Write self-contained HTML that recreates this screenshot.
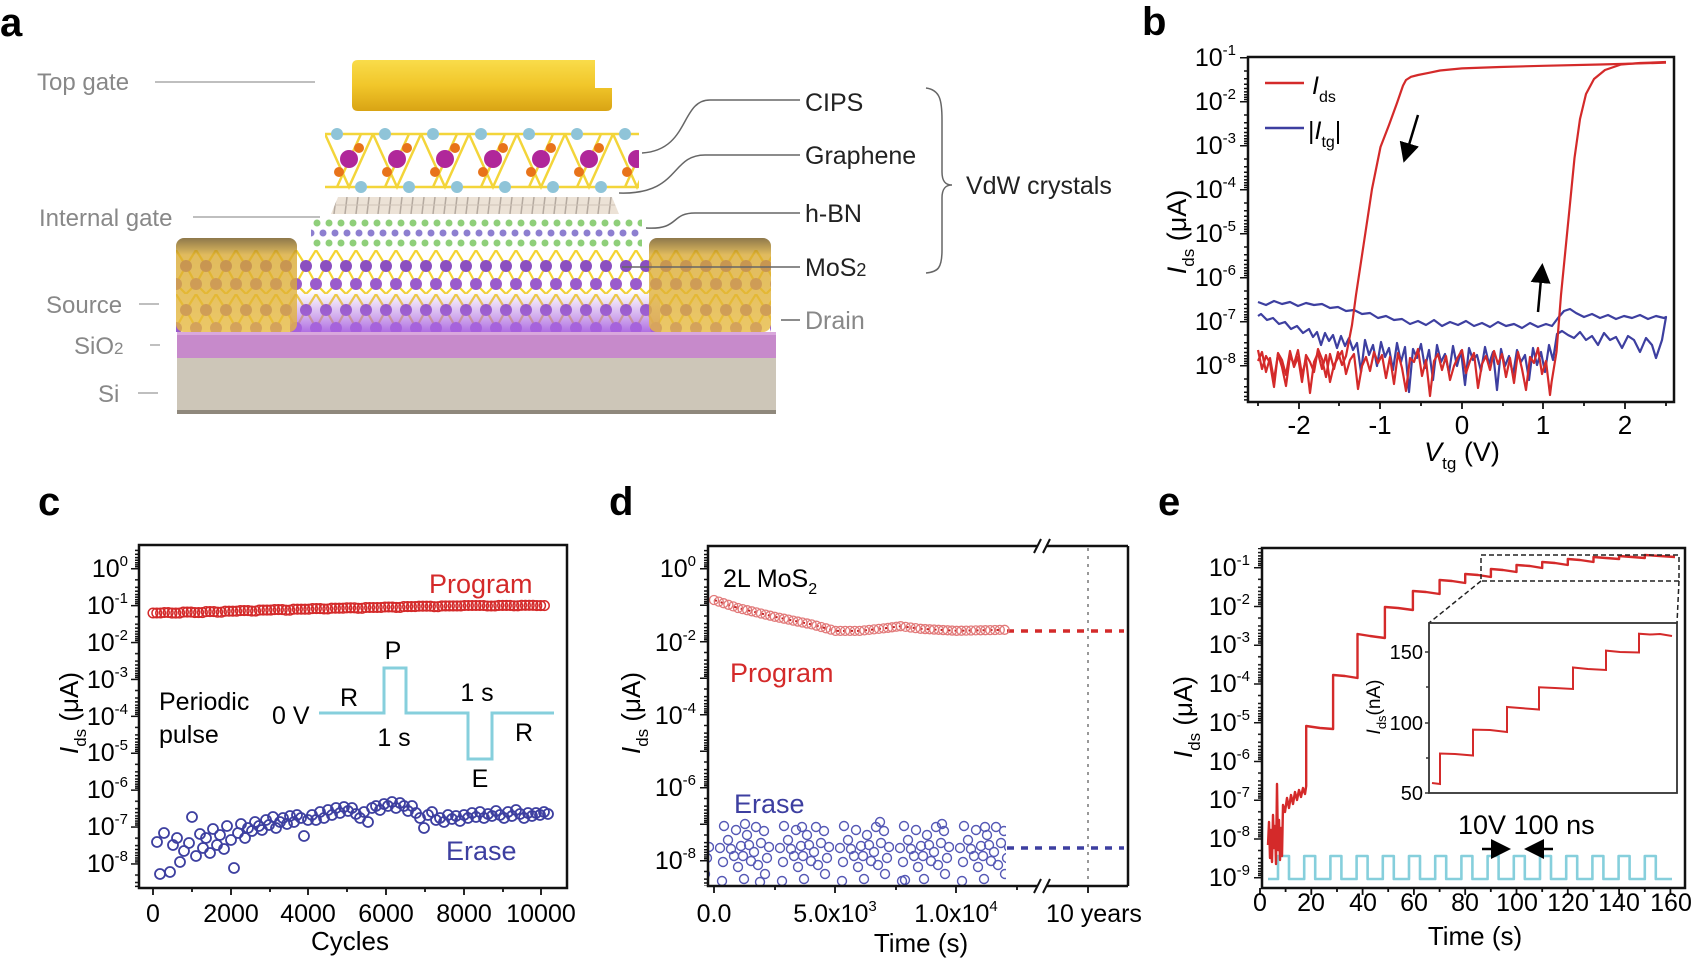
<!DOCTYPE html>
<html><head><meta charset="utf-8">
<style>
html,body{margin:0;padding:0;background:#fff;}
svg{display:block;font-family:"Liberation Sans",Arial,sans-serif;}
</style></head>
<body>
<svg width="1699" height="963" viewBox="0 0 1699 963" xmlns="http://www.w3.org/2000/svg">
<defs>
<linearGradient id="gold" x1="0" y1="0" x2="0" y2="1">
<stop offset="0" stop-color="#f9dc4a"/><stop offset="0.5" stop-color="#f1c62a"/><stop offset="1" stop-color="#d9a414"/></linearGradient>
<linearGradient id="blk" x1="0" y1="0" x2="0" y2="1">
<stop offset="0" stop-color="#6e5218"/><stop offset="0.18" stop-color="#d8a830"/><stop offset="1" stop-color="#e6b83c"/></linearGradient>
<linearGradient id="glow" x1="0" y1="0" x2="0" y2="1">
<stop offset="0" stop-color="#b880e0" stop-opacity="0"/><stop offset="1" stop-color="#a860e0" stop-opacity="0.9"/></linearGradient>
<pattern id="pMoS" patternUnits="userSpaceOnUse" x="176" y="250" width="20" height="44">
<path d="M0,0 L10,16 L20,0 M10,16 L0,34 M10,16 L20,34 M0,34 L10,44 M20,34 L10,44" stroke="#f4d430" stroke-width="2.2" fill="none"/>
<circle cx="10" cy="16" r="6" fill="#8b4fc0"/><circle cx="0" cy="34" r="6" fill="#9a5ccc"/><circle cx="20" cy="34" r="6" fill="#9a5ccc"/>
</pattern>
<pattern id="pBN" patternUnits="userSpaceOnUse" x="311" y="218" width="12" height="20">
<circle cx="6" cy="5" r="3.5" fill="#8fcf7a"/><circle cx="0" cy="15" r="3.5" fill="#8d7fd0"/><circle cx="12" cy="15" r="3.5" fill="#8d7fd0"/>
</pattern>
<pattern id="pGr" patternUnits="userSpaceOnUse" x="331" y="197" width="11" height="17">
<rect width="11" height="17" fill="#ece2d6"/><line x1="5" y1="0" x2="3" y2="17" stroke="#b5aaa0" stroke-width="1.5"/><line x1="0" y1="8" x2="11" y2="8" stroke="#d0c4b8" stroke-width="1"/>
</pattern>
<pattern id="pCIPS" patternUnits="userSpaceOnUse" x="325" y="128" width="48" height="65">
<path d="M0,6 L48,6 M0,59 L48,59 M0,6 L24,59 L48,6 M12,59 L36,6" stroke="#f3d53a" stroke-width="2.5" fill="none"/>
<circle cx="24" cy="31" r="9" fill="#b0279a"/><circle cx="12" cy="6" r="6" fill="#8fc4d8"/><circle cx="36" cy="59" r="6" fill="#8fc4d8"/>
<circle cx="34" cy="20" r="5" fill="#e8731a"/><circle cx="14" cy="44" r="5" fill="#e8731a"/>
</pattern>
<pattern id="tb" patternUnits="userSpaceOnUse" x="1240" y="57" width="8" height="44">
<path d="M0,0.75H8 M4,14.0H8 M4,21.8H8 M4,27.3H8 M4,31.5H8 M4,34.9H8 M4,37.8H8 M4,40.3H8 M4,42.5H8" stroke="#111" stroke-width="1.5"/></pattern>
<pattern id="tc" patternUnits="userSpaceOnUse" x="131" y="568" width="8" height="36.9">
<path d="M0,0.75H8 M4,11.8H8 M4,19.3H8 M4,23.2H8 M4,26.6H8 M4,29.2H8 M4,31.7H8 M4,33.8H8 M4,35.6H8" stroke="#111" stroke-width="1.5"/></pattern>
<pattern id="td" patternUnits="userSpaceOnUse" x="700" y="568" width="8" height="36.5">
<path d="M0,0.75H8 M4,11.5H8 M4,19.1H8 M4,23H8 M4,26.3H8 M4,28.9H8 M4,31.4H8 M4,33.5H8 M4,35.2H8" stroke="#111" stroke-width="1.5"/></pattern>
<pattern id="te" patternUnits="userSpaceOnUse" x="1254" y="567" width="8" height="38.75">
<path d="M0,0.75H8 M4,12.3H8 M4,20.3H8 M4,24.4H8 M4,27.7H8 M4,30.5H8 M4,33.1H8 M4,35.4H8 M4,37.3H8" stroke="#111" stroke-width="1.5"/></pattern>
<pattern id="pEr" patternUnits="userSpaceOnUse" x="714" y="818" width="60" height="72">
<g fill="none" stroke="#5558b5" stroke-width="1.4">
<circle cx="6" cy="30" r="4.5"/><circle cx="14" cy="22" r="4.5"/><circle cx="20" cy="38" r="4.5"/><circle cx="27" cy="28" r="4.5"/><circle cx="33" cy="17" r="4.5"/><circle cx="40" cy="34" r="4.5"/><circle cx="47" cy="25" r="4.5"/><circle cx="53" cy="40" r="4.5"/><circle cx="9" cy="44" r="4.5"/><circle cx="24" cy="49" r="4.5"/><circle cx="37" cy="43" r="4.5"/><circle cx="50" cy="13" r="4.5"/><circle cx="17" cy="31" r="4.5"/><circle cx="44" cy="47" r="4.5"/><circle cx="30" cy="61" r="4.5"/><circle cx="8" cy="63" r="4.5"/><circle cx="55" cy="29" r="4.5"/><circle cx="42" cy="9" r="4.5"/><circle cx="22" cy="12" r="4.5"/><circle cx="35" cy="27" r="4.5"/><circle cx="10" cy="8" r="4.5"/><circle cx="51" cy="56" r="4.5"/><circle cx="29" cy="38" r="4.5"/>
</g></pattern>
<clipPath id="cb"><rect x="1248" y="57" width="426" height="345"/></clipPath>
<clipPath id="cd"><rect x="708" y="546" width="420" height="340"/></clipPath>
<clipPath id="ce"><rect x="1262" y="548" width="423" height="340"/></clipPath>
<marker id="ah" markerWidth="8" markerHeight="8" refX="6" refY="4" orient="auto" markerUnits="strokeWidth">
<path d="M0,0 L8,4 L0,8 Z" fill="#000"/></marker>
<marker id="mr" markerWidth="12" markerHeight="12" refX="6" refY="6" markerUnits="userSpaceOnUse">
<circle cx="6" cy="6" r="4.8" fill="none" stroke="#d42a2a" stroke-width="1.5"/></marker>
<marker id="mr2" markerWidth="12" markerHeight="12" refX="6" refY="6" markerUnits="userSpaceOnUse">
<circle cx="6" cy="6" r="4.5" fill="none" stroke="#e27a7a" stroke-width="1.3"/></marker>
</defs>

<!-- ===== Panel a ===== -->
<text x="0" y="36" font-size="40" font-weight="bold">a</text>
<g font-size="24" fill="#888">
<text x="37" y="90">Top gate</text>
<text x="39" y="226">Internal gate</text>
<text x="46" y="313">Source</text>
<text x="74" y="354">SiO<tspan font-size="17">2</tspan></text>
<text x="98" y="402">Si</text>
</g>
<g stroke="#aaa" stroke-width="1.5">
<line x1="155" y1="82" x2="315" y2="82"/>
<line x1="193" y1="217" x2="320" y2="217"/>
<line x1="139" y1="304" x2="159" y2="304"/>
<line x1="150" y1="345" x2="160" y2="345"/>
<line x1="138" y1="393" x2="158" y2="393"/>
</g>
<rect x="177" y="358" width="599" height="55" fill="#cdc6b8"/>
<rect x="177" y="410" width="599" height="4" fill="#8f887c"/>
<rect x="177" y="332" width="599" height="26" fill="#c78acb"/>
<rect x="177" y="332" width="599" height="3" fill="#d9a8dc"/>
<rect x="176" y="250" width="595" height="82" fill="url(#pMoS)"/>
<rect x="290" y="290" width="370" height="42" fill="url(#glow)"/>
<rect x="176" y="238" width="121" height="94" rx="8" fill="url(#blk)" opacity="0.78"/>
<rect x="649" y="238" width="122" height="94" rx="8" fill="url(#blk)" opacity="0.78"/>
<rect x="311" y="218" width="331" height="30" fill="url(#pBN)"/>
<path d="M338,197 L612,197 L619,214 L331,214 Z" fill="url(#pGr)"/>
<rect x="325" y="128" width="314" height="65" fill="url(#pCIPS)"/>
<path d="M352,66 Q352,60 358,60 L595,60 L595,88 L612,88 L612,106 Q612,111 606,111 L358,111 Q352,111 352,105 Z" fill="url(#gold)"/>
<g fill="none" stroke="#666" stroke-width="1.5">
<path d="M642,153 C690,150 680,100 710,100 L800,100"/>
<path d="M619,193 C680,195 670,155 705,155 L800,155"/>
<path d="M646,228 C680,230 670,213 695,213 L800,213"/>
<path d="M622,267 L800,267"/>
<path d="M781,320 L800,320"/>
<path d="M926,88 C940,90 942,100 942,120 L942,172 C942,182 946,185 952,185 C946,185 942,188 942,198 L942,250 C942,268 938,272 926,273"/>
</g>
<g font-size="25" fill="#222">
<text x="805" y="111">CIPS</text>
<text x="805" y="164">Graphene</text>
<text x="805" y="222">h-BN</text>
<text x="805" y="276">MoS<tspan font-size="18">2</tspan></text>
<text x="966" y="194">VdW crystals</text>
</g>
<text x="805" y="329" font-size="25" fill="#888">Drain</text>

<!-- ===== Panel b ===== -->
<text x="1142" y="35" font-size="40" font-weight="bold">b</text>
<rect x="1240" y="57" width="8" height="345" fill="url(#tb)"/>
<g stroke="#111" stroke-width="1.8">
<path d="M1299,402v7M1380,402v7M1462,402v7M1543,402v7M1625,402v7M1258,402v4M1339,402v4M1421,402v4M1503,402v4M1584,402v4M1666,402v4"/>
</g>
<g font-size="25" text-anchor="end">
<text x="1236" y="66">10<tspan font-size="15" dy="-11">-1</tspan></text>
<text x="1236" y="110">10<tspan font-size="15" dy="-11">-2</tspan></text>
<text x="1236" y="154">10<tspan font-size="15" dy="-11">-3</tspan></text>
<text x="1236" y="198">10<tspan font-size="15" dy="-11">-4</tspan></text>
<text x="1236" y="242">10<tspan font-size="15" dy="-11">-5</tspan></text>
<text x="1236" y="286">10<tspan font-size="15" dy="-11">-6</tspan></text>
<text x="1236" y="330">10<tspan font-size="15" dy="-11">-7</tspan></text>
<text x="1236" y="374">10<tspan font-size="15" dy="-11">-8</tspan></text>
</g>
<g font-size="26" text-anchor="middle">
<text x="1299" y="434">-2</text><text x="1380" y="434">-1</text><text x="1462" y="434">0</text><text x="1543" y="434">1</text><text x="1625" y="434">2</text>
</g>
<text x="1462" y="461" font-size="27" text-anchor="middle"><tspan font-style="italic">V</tspan><tspan font-size="17" dy="8">tg</tspan><tspan dy="-8"> (V)</tspan></text>
<text transform="translate(1186,232) rotate(-90)" font-size="27" text-anchor="middle"><tspan font-style="italic">I</tspan><tspan font-size="17" dy="8">ds</tspan><tspan dy="-8"> (μA)</tspan></text>
<line x1="1265" y1="83" x2="1304" y2="83" stroke="#d42a2a" stroke-width="2.5"/>
<line x1="1265" y1="128" x2="1304" y2="128" stroke="#3d3fa0" stroke-width="2.5"/>
<text x="1312" y="94" font-size="25"><tspan font-style="italic">I</tspan><tspan font-size="16" dy="8">ds</tspan></text>
<text x="1308" y="139" font-size="25">|<tspan font-style="italic">I</tspan><tspan font-size="16" dy="8">tg</tspan><tspan dy="-8">|</tspan></text>
<g clip-path="url(#cb)" fill="none" stroke-width="2.2" stroke-linejoin="round">
<polyline stroke="#3d3fa0" points="1258,302 1266,305 1274,301 1282,304 1290,302 1298,306 1306,303 1314,305 1322,304 1330,308 1338,307 1346,311 1354,310 1362,314 1370,313 1378,318 1386,316 1394,320 1402,319 1410,324 1418,321 1426,325 1434,320 1442,326 1450,322 1458,325 1466,321 1474,326 1482,323 1490,327 1498,322 1506,326 1514,324 1522,328 1530,323 1538,327 1546,324 1552,326 1558,318 1564,311 1570,309 1576,313 1584,317 1592,314 1600,318 1608,315 1616,319 1624,316 1632,318 1640,315 1648,319 1656,316 1664,318 1666,317 1662,340 1656,358 1652,345 1646,338 1640,352 1634,340 1628,336 1622,348 1616,337 1610,340 1604,333 1598,345 1592,336 1586,340 1580,332 1574,338 1568,335 1562,331 1557,334 1553,360 1549,345 1545,372 1541,352 1537,365 1533,348 1529,380 1525,355 1521,362 1517,350 1513,375 1509,356 1505,366 1501,349 1497,390 1493,352 1489,364 1485,347 1481,371 1477,355 1473,360 1469,348 1465,385 1461,351 1457,366 1453,346 1449,373 1445,354 1441,362 1437,345 1433,380 1429,350 1425,368 1421,344 1417,358 1413,349 1409,392 1405,347 1401,362 1397,343 1393,370 1389,348 1385,357 1381,342 1377,366 1373,345 1369,355 1365,340 1361,372 1357,343 1353,350 1349,338 1345,346 1341,336 1337,348 1333,335 1329,341 1325,333 1321,345 1317,332 1313,337 1309,329 1303,333 1297,326 1291,329 1285,322 1279,324 1273,318 1267,320 1261,314 1258,316"/>
<polyline stroke="#d42a2a" points="1666,62.7 1600,64.5 1543,65.8 1500,67 1462,68.4 1440,70.5 1429,72.8 1418,75 1411,76.8 1406,80 1403,85.6 1397,103 1389,125 1380.5,147 1372,189 1364,242 1356,295 1352,325 1346,356 1342,365 1338,352 1334,369 1330,354 1326,377 1322,359 1318,349 1314,372 1310,362 1306,355 1302,382 1298,357 1294,367 1290,351 1286,375 1282,360 1278,353 1274,387 1270,363 1266,356 1262,369 1258,350"/>
<polyline stroke="#d42a2a" points="1258,361 1262,352 1266,372 1270,358 1274,380 1278,354 1282,367 1286,386 1290,356 1294,364 1298,350 1302,375 1306,359 1310,393 1314,362 1318,353 1322,369 1326,355 1330,382 1334,365 1338,358 1342,351 1346,374 1350,360 1354,354 1358,389 1362,366 1366,357 1370,371 1374,352 1378,363 1382,355 1386,378 1390,357 1394,384 1398,353 1402,368 1406,391 1410,358 1414,362 1418,349 1422,376 1426,360 1430,396 1434,361 1438,354 1442,370 1446,356 1450,380 1454,366 1458,357 1462,350 1466,373 1470,361 1474,353 1478,388 1482,364 1486,356 1490,370 1494,351 1498,364 1502,354 1506,377 1510,358 1514,383 1518,352 1522,369 1526,390 1530,357 1534,363 1538,348 1542,374 1546,361 1550,395 1551.6,382 1556.5,352 1561,295 1568,224 1574.5,158 1580,119 1586,94 1594,79 1605,70 1621,64.5 1640,63 1666,62"/>
</g>
<rect x="1248" y="57" width="426" height="345" fill="none" stroke="#111" stroke-width="2.5"/>
<line x1="1418" y1="115" x2="1405" y2="158" stroke="#000" stroke-width="2.5" marker-end="url(#ah)"/>
<line x1="1538" y1="312" x2="1542" y2="268" stroke="#000" stroke-width="2.5" marker-end="url(#ah)"/>

<!-- ===== Panel c ===== -->
<text x="38" y="515" font-size="40" font-weight="bold">c</text>
<rect x="131" y="545" width="8" height="343" fill="url(#tc)"/>
<path d="M153,888v7M231,888v7M308,888v7M386,888v7M464,888v7M541,888v7M192,888v4M270,888v4M347,888v4M425,888v4M503,888v4" stroke="#111" stroke-width="1.8"/>
<g font-size="25" text-anchor="end">
<text x="128" y="577">10<tspan font-size="15" dy="-11">0</tspan></text>
<text x="128" y="614">10<tspan font-size="15" dy="-11">-1</tspan></text>
<text x="128" y="651">10<tspan font-size="15" dy="-11">-2</tspan></text>
<text x="128" y="688">10<tspan font-size="15" dy="-11">-3</tspan></text>
<text x="128" y="725">10<tspan font-size="15" dy="-11">-4</tspan></text>
<text x="128" y="761">10<tspan font-size="15" dy="-11">-5</tspan></text>
<text x="128" y="798">10<tspan font-size="15" dy="-11">-6</tspan></text>
<text x="128" y="835">10<tspan font-size="15" dy="-11">-7</tspan></text>
<text x="128" y="872">10<tspan font-size="15" dy="-11">-8</tspan></text>
</g>
<g font-size="25" text-anchor="middle">
<text x="153" y="922">0</text><text x="231" y="922">2000</text><text x="308" y="922">4000</text><text x="386" y="922">6000</text><text x="464" y="922">8000</text><text x="541" y="922">10000</text>
</g>
<text x="350" y="950" font-size="26" text-anchor="middle">Cycles</text>
<text transform="translate(78,713) rotate(-90)" font-size="26" text-anchor="middle"><tspan font-style="italic">I</tspan><tspan font-size="17" dy="8">ds</tspan><tspan dy="-8"> (μA)</tspan></text>
<text x="429" y="593" font-size="27" fill="#d42a2a">Program</text>
<text x="446" y="860" font-size="27" fill="#3d3fa0">Erase</text>
<text x="159" y="710" font-size="25">Periodic</text>
<text x="159" y="743" font-size="25">pulse</text>
<text x="272" y="724" font-size="25">0 V</text>
<polyline points="319,713 384,713 384,668 406,668 406,713 468,713 468,759 492,759 492,713 554,713" fill="none" stroke="#86cfdc" stroke-width="3"/>
<g font-size="25" text-anchor="middle">
<text x="349" y="706">R</text><text x="393" y="659">P</text><text x="394" y="746">1 s</text><text x="477" y="701">1 s</text><text x="524" y="741">R</text><text x="480" y="787">E</text>
</g>
<path fill="none" stroke="none" marker-start="url(#mr)" marker-mid="url(#mr)" marker-end="url(#mr)" d="M153,613 h3.8 h3.8 l3.8,-0.5 h3.8 l3.8,0.6 h3.8 h3.8 l3.8,-1 h3.8 h3.8 l3.8,0.5 h3.8 h3.8 l3.8,-1 h3.8 h3.8 l3.8,0.6 h3.8 l3.8,-1 h3.8 h3.8 h3.8 l3.8,-0.6 h3.8 h3.8 l3.8,0.5 h3.8 l3.8,-1 h3.8 h3.8 h3.8 l3.8,-0.5 h3.8 h3.8 l3.8,0.6 h3.8 l3.8,-1 h3.8 h3.8 h3.8 h3.8 l3.8,-0.6 h3.8 h3.8 l3.8,0.4 h3.8 l3.8,-0.8 h3.8 h3.8 h3.8 l3.8,-0.4 h3.8 h3.8 l3.8,0.5 h3.8 l3.8,-0.8 h3.8 h3.8 h3.8 h3.8 l3.8,-0.5 h3.8 h3.8 l3.8,0.4 h3.8 l3.8,-0.8 h3.8 h3.8 h3.8 l3.8,-0.4 h3.8 h3.8 h3.8 l3.8,0.5 h3.8 l3.8,-0.8 h3.8 h3.8 h3.8 h3.8 h3.8 l3.8,-0.4 h3.8 h3.8 h3.8 h3.8 h3.8 l3.8,0.5 h3.8 h3.8 l3.8,-0.6 h3.8 h3.8 h3.8 l3.8,0.4 h3.8 l3.8,-0.5 h3.8 h3.8 h3.8 l3.8,0.3 h3.8 h3.8"/>
<g fill="none" stroke="#3d3fa0" stroke-width="1.8">
<circle cx="157" cy="842" r="5"/><circle cx="160" cy="874" r="5"/><circle cx="164" cy="833" r="5"/><circle cx="170" cy="872" r="5"/><circle cx="173" cy="845" r="5"/><circle cx="177" cy="838" r="5"/><circle cx="180" cy="862" r="5"/><circle cx="184" cy="851" r="5"/><circle cx="189" cy="843" r="5"/><circle cx="192" cy="817" r="5"/><circle cx="196" cy="856" r="5"/><circle cx="200" cy="834" r="5"/><circle cx="203" cy="848" r="5"/><circle cx="206" cy="838" r="5"/><circle cx="210" cy="853" r="5"/><circle cx="213" cy="829" r="5"/><circle cx="217" cy="845" r="5"/><circle cx="220" cy="835" r="5"/><circle cx="224" cy="849" r="5"/><circle cx="227" cy="826" r="5"/><circle cx="231" cy="840" r="5"/><circle cx="234" cy="868" r="5"/><circle cx="238" cy="833" r="5"/><circle cx="241" cy="824" r="5"/><circle cx="245" cy="838" r="5"/><circle cx="248" cy="828" r="5"/><circle cx="252" cy="831" r="5"/><circle cx="255" cy="822" r="5"/><circle cx="259" cy="826" r="5"/><circle cx="262" cy="830" r="5"/><circle cx="266" cy="820" r="5"/><circle cx="269" cy="825" r="5"/><circle cx="273" cy="817" r="5"/><circle cx="276" cy="828" r="5"/><circle cx="280" cy="822" r="5"/><circle cx="283" cy="818" r="5"/><circle cx="287" cy="824" r="5"/><circle cx="290" cy="816" r="5"/><circle cx="294" cy="822" r="5"/><circle cx="297" cy="815" r="5"/><circle cx="301" cy="818" r="5"/><circle cx="304" cy="836" r="5"/><circle cx="308" cy="820" r="5"/><circle cx="312" cy="815" r="5"/><circle cx="316" cy="820" r="5"/><circle cx="320" cy="812" r="5"/><circle cx="324" cy="818" r="5"/><circle cx="328" cy="810" r="5"/><circle cx="332" cy="815" r="5"/><circle cx="336" cy="808" r="5"/><circle cx="340" cy="813" r="5"/><circle cx="344" cy="807" r="5"/><circle cx="348" cy="811" r="5"/><circle cx="352" cy="808" r="5"/><circle cx="356" cy="814" r="5"/><circle cx="360" cy="818" r="5"/><circle cx="364" cy="812" r="5"/><circle cx="368" cy="822" r="5"/><circle cx="372" cy="808" r="5"/><circle cx="376" cy="806" r="5"/><circle cx="380" cy="810" r="5"/><circle cx="384" cy="804" r="5"/><circle cx="388" cy="806" r="5"/><circle cx="392" cy="802" r="5"/><circle cx="396" cy="808" r="5"/><circle cx="400" cy="803" r="5"/><circle cx="404" cy="806" r="5"/><circle cx="408" cy="811" r="5"/><circle cx="412" cy="806" r="5"/><circle cx="416" cy="813" r="5"/><circle cx="420" cy="818" r="5"/><circle cx="424" cy="828" r="5"/><circle cx="428" cy="815" r="5"/><circle cx="432" cy="812" r="5"/><circle cx="436" cy="820" r="5"/><circle cx="440" cy="818" r="5"/><circle cx="444" cy="822" r="5"/><circle cx="448" cy="815" r="5"/><circle cx="452" cy="819" r="5"/><circle cx="456" cy="816" r="5"/><circle cx="460" cy="821" r="5"/><circle cx="464" cy="815" r="5"/><circle cx="468" cy="818" r="5"/><circle cx="472" cy="813" r="5"/><circle cx="476" cy="817" r="5"/><circle cx="480" cy="812" r="5"/><circle cx="484" cy="818" r="5"/><circle cx="488" cy="814" r="5"/><circle cx="492" cy="816" r="5"/><circle cx="496" cy="811" r="5"/><circle cx="500" cy="815" r="5"/><circle cx="504" cy="818" r="5"/><circle cx="508" cy="812" r="5"/><circle cx="512" cy="816" r="5"/><circle cx="516" cy="810" r="5"/><circle cx="520" cy="814" r="5"/><circle cx="524" cy="818" r="5"/><circle cx="528" cy="813" r="5"/><circle cx="532" cy="816" r="5"/><circle cx="536" cy="813" r="5"/><circle cx="540" cy="815" r="5"/><circle cx="544" cy="812" r="5"/><circle cx="548" cy="814" r="5"/>
</g>
<rect x="139" y="545" width="428" height="343" fill="none" stroke="#111" stroke-width="2.5"/>

<!-- ===== Panel d ===== -->
<text x="609" y="515" font-size="40" font-weight="bold">d</text>
<rect x="700" y="546" width="8" height="340" fill="url(#td)"/>
<path d="M714,886v7M835,886v7M956,886v7M1088,886v7M775,886v4M896,886v4M1017,886v4" stroke="#111" stroke-width="1.8"/>
<line x1="1088" y1="548" x2="1088" y2="884" stroke="#999" stroke-width="2" stroke-dasharray="3,5"/>
<g font-size="25" text-anchor="end">
<text x="696" y="577">10<tspan font-size="15" dy="-11">0</tspan></text>
<text x="696" y="651">10<tspan font-size="15" dy="-11">-2</tspan></text>
<text x="696" y="724">10<tspan font-size="15" dy="-11">-4</tspan></text>
<text x="696" y="796">10<tspan font-size="15" dy="-11">-6</tspan></text>
<text x="696" y="869">10<tspan font-size="15" dy="-11">-8</tspan></text>
</g>
<g font-size="25" text-anchor="middle">
<text x="714" y="922">0.0</text>
<text x="835" y="922">5.0x10<tspan font-size="15" dy="-11">3</tspan></text>
<text x="956" y="922">1.0x10<tspan font-size="15" dy="-11">4</tspan></text>
<text x="1094" y="922">10 years</text>
</g>
<text x="921" y="952" font-size="26" text-anchor="middle">Time (s)</text>
<text transform="translate(640,713) rotate(-90)" font-size="26" text-anchor="middle"><tspan font-style="italic">I</tspan><tspan font-size="17" dy="8">ds</tspan><tspan dy="-8"> (μA)</tspan></text>
<text x="723" y="587" font-size="25">2L MoS<tspan font-size="16" dy="7">2</tspan></text>
<text x="730" y="682" font-size="27" fill="#d42a2a">Program</text>
<line x1="1007" y1="631" x2="1124" y2="631" stroke="#d42a2a" stroke-width="3.5" stroke-dasharray="7,7"/>
<line x1="1007" y1="848" x2="1124" y2="848" stroke="#3d3fa0" stroke-width="3.5" stroke-dasharray="7,7"/>
<g clip-path="url(#cd)">
<rect x="708" y="818" width="298" height="72" fill="url(#pEr)"/>
<g fill="none" stroke="#5558b5" stroke-width="1.4">
<circle cx="745" cy="824" r="4.5"/><circle cx="802" cy="827" r="4.5"/><circle cx="880" cy="822" r="4.5"/><circle cx="942" cy="824" r="4.5"/><circle cx="985" cy="827" r="4.5"/><circle cx="760" cy="882" r="4.5"/><circle cx="905" cy="880" r="4.5"/>
</g>
<path fill="none" stroke="#c42020" stroke-width="2" stroke-dasharray="3,4" marker-start="url(#mr2)" marker-mid="url(#mr2)" marker-end="url(#mr2)" d="M714,600 l4.8,1.6 l4.8,1.6 l4.8,1.6 l4.8,1.6 l4.8,1.6 l4.6,1.1 l4.6,1.1 l4.6,1.1 l4.6,1.1 l4.6,1.1 l4.6,1.1 l4.6,1.1 l4.6,1.1 l4.6,0.95 l4.6,0.95 l4.6,0.95 l4.6,0.95 l4.6,0.95 l4.6,0.95 l4.6,0.95 l4.6,0.95 l4.8,1.3 l4.8,1.3 l4.8,1.3 l4.8,1.3 l4.8,1.3 h4.8 h4.8 h4.8 h4.8 h4.8 l4.8,-0.5 l4.8,-0.5 l4.8,-0.5 l4.8,-0.5 l4.8,-0.5 l4.25,-0.55 l4.25,-0.55 l4.25,-0.55 l4.25,-0.55 l5,0.65 l5,0.65 l5,0.65 l5,0.65 l4.5,0.25 l4.5,0.25 l4.5,0.25 l4.5,0.25 l4.5,0.25 l4.5,0.25 l4.5,0.25 l4.5,0.25 l4.8,-0.1 l4.8,-0.1 l4.8,-0.1 l4.8,-0.1 l4.8,-0.1 l4.8,-0.1 l4.8,-0.1 l4.8,-0.1 l4.8,-0.1 l4.8,-0.1"/>
</g>
<text x="734" y="813" font-size="27" fill="#3d3fa0">Erase</text>
<polyline points="1128,546 708,546 708,886 1128,886" fill="none" stroke="#111" stroke-width="2.5"/>
<line x1="1128" y1="546" x2="1128" y2="886" stroke="#111" stroke-width="2.5"/>
<rect x="1038" y="540" width="9" height="12" fill="#fff"/>
<rect x="1038" y="880" width="9" height="12" fill="#fff"/>
<g stroke="#111" stroke-width="2">
<line x1="1034" y1="553" x2="1041" y2="539"/><line x1="1043" y1="553" x2="1050" y2="539"/>
<line x1="1034" y1="893" x2="1041" y2="879"/><line x1="1043" y1="893" x2="1050" y2="879"/>
</g>

<!-- ===== Panel e ===== -->
<text x="1158" y="515" font-size="40" font-weight="bold">e</text>
<rect x="1254" y="548" width="8" height="340" fill="url(#te)"/>
<path d="M1260,888v7M1311.3,888v7M1362.6,888v7M1413.9,888v7M1465.2,888v7M1516.5,888v7M1567.8,888v7M1619.1,888v7M1670.4,888v7M1285.6,888v4M1337,888v4M1388.2,888v4M1439.6,888v4M1490.8,888v4M1542.2,888v4M1593.4,888v4M1644.8,888v4" stroke="#111" stroke-width="1.8"/>
<g font-size="25" text-anchor="end">
<text x="1250" y="576">10<tspan font-size="15" dy="-11">-1</tspan></text>
<text x="1250" y="615">10<tspan font-size="15" dy="-11">-2</tspan></text>
<text x="1250" y="653">10<tspan font-size="15" dy="-11">-3</tspan></text>
<text x="1250" y="692">10<tspan font-size="15" dy="-11">-4</tspan></text>
<text x="1250" y="731">10<tspan font-size="15" dy="-11">-5</tspan></text>
<text x="1250" y="770">10<tspan font-size="15" dy="-11">-6</tspan></text>
<text x="1250" y="808">10<tspan font-size="15" dy="-11">-7</tspan></text>
<text x="1250" y="847">10<tspan font-size="15" dy="-11">-8</tspan></text>
<text x="1250" y="886">10<tspan font-size="15" dy="-11">-9</tspan></text>
</g>
<g font-size="25" text-anchor="middle">
<text x="1260" y="911">0</text><text x="1311" y="911">20</text><text x="1363" y="911">40</text><text x="1414" y="911">60</text><text x="1465" y="911">80</text><text x="1517" y="911">100</text><text x="1568" y="911">120</text><text x="1619" y="911">140</text><text x="1671" y="911">160</text>
</g>
<text x="1475" y="945" font-size="26" text-anchor="middle">Time (s)</text>
<text transform="translate(1192,717) rotate(-90)" font-size="26" text-anchor="middle"><tspan font-style="italic">I</tspan><tspan font-size="17" dy="8">ds</tspan><tspan dy="-8"> (μA)</tspan></text>
<g clip-path="url(#ce)" fill="none" stroke-linejoin="round">
<polyline stroke="#86cfdc" stroke-width="2.6" points="1268,879 1278,879 1278,856 1289,856 1289,879 1304.2,879 1304.2,856 1315.2,856 1315.2,879 1330.4,879 1330.4,856 1341.4,856 1341.4,879 1356.6,879 1356.6,856 1367.6,856 1367.6,879 1382.8,879 1382.8,856 1393.8,856 1393.8,879 1409,879 1409,856 1420,856 1420,879 1435.2,879 1435.2,856 1446.2,856 1446.2,879 1461.4,879 1461.4,856 1472.4,856 1472.4,879 1487.6,879 1487.6,856 1498.6,856 1498.6,879 1513.8,879 1513.8,856 1524.8,856 1524.8,879 1540,879 1540,856 1551,856 1551,879 1566.2,879 1566.2,856 1577.2,856 1577.2,879 1592.4,879 1592.4,856 1603.4,856 1603.4,879 1618.6,879 1618.6,856 1629.6,856 1629.6,879 1644.8,879 1644.8,856 1655.8,856 1655.8,879 1672,879"/>
<polyline stroke="#d42a2a" stroke-width="2.4" points="1268,845 1269,822 1270,858 1271,830 1272,862 1273,815 1274,848 1275,826 1276,864 1277,784 1278,850 1279,820 1280,860 1281,828 1282,856 1283,805 1285,812 1287,798 1289,808 1291,795 1293,804 1295,792 1297,800 1299,790 1301,797 1303,788 1305,794 1306.2,786 1306.2,726 1320,728 1333.1,729 1333.1,675 1345,676 1357.5,678 1357.5,634 1370,636 1384.9,638 1384.9,607 1398,608 1412.9,610 1412.9,591 1426,592 1439.6,594 1439.6,580 1452,581 1465.2,583 1465.2,574 1478,575 1490.9,577 1490.9,569 1503,570 1516.5,572 1516.5,565 1530,566 1542.2,568 1542.2,562 1555,563 1567.8,565 1567.8,559 1580,560 1593.5,562 1593.5,557 1606,558 1619.1,559 1619.1,556 1632,557 1644.8,558 1644.8,555 1660,556 1675,557"/>
</g>
<rect x="1262" y="548" width="423" height="340" fill="none" stroke="#111" stroke-width="2.5"/>
<rect x="1481" y="555" width="198" height="26" fill="none" stroke="#222" stroke-width="1.5" stroke-dasharray="5,3"/>
<line x1="1481" y1="581" x2="1429" y2="623" stroke="#222" stroke-width="1.5" stroke-dasharray="5,3"/>
<line x1="1679" y1="581" x2="1677" y2="623" stroke="#222" stroke-width="1.5" stroke-dasharray="5,3"/>
<rect x="1429" y="623" width="248" height="170" fill="#fff" stroke="#333" stroke-width="1.8"/>
<path d="M1429,652h-4M1429,723h-4M1429,793h-4M1429,687h-3M1429,758h-3" stroke="#333" stroke-width="1.5"/>
<g font-size="20" text-anchor="end">
<text x="1423" y="659">150</text><text x="1423" y="730">100</text><text x="1423" y="800">50</text>
</g>
<text transform="translate(1380,707) rotate(-90)" font-size="19" text-anchor="middle"><tspan font-style="italic">I</tspan><tspan font-size="13" dy="6">ds</tspan><tspan dy="-6">(nA)</tspan></text>
<polyline fill="none" stroke="#d42a2a" stroke-width="2" points="1432,783 1440,784 1440,753.5 1455,754 1473,755.5 1473,729.6 1490,730 1507,732 1507,707 1520,708 1539,709.5 1539,687.3 1555,688 1573,689 1573,667.5 1588,669 1606,670 1606,650.6 1620,652 1639,652.5 1639,633.7 1650,634.5 1660,634 1672,636"/>
<text x="1458" y="834" font-size="27">10V 100 ns</text>
<line x1="1482" y1="849" x2="1506" y2="849" stroke="#000" stroke-width="2.5" marker-end="url(#ah)"/>
<line x1="1553" y1="849" x2="1529" y2="849" stroke="#000" stroke-width="2.5" marker-end="url(#ah)"/>
</svg>
</body></html>
